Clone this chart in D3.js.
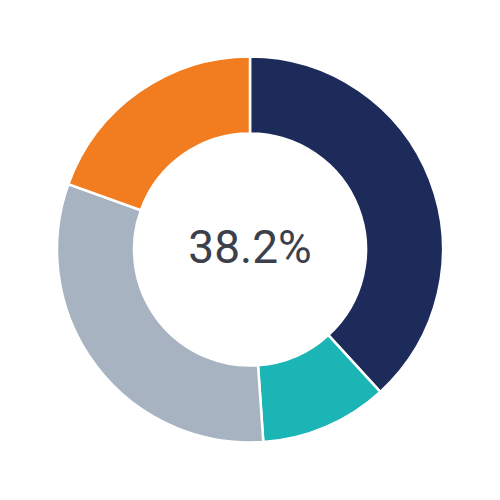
<!DOCTYPE html>
<html>
<head>
<meta charset="utf-8">
<script src="https://cdn.jsdelivr.net/npm/d3@7"></script>
<style>
  html, body { margin: 0; padding: 0; background: #fff; }
</style>
</head>
<body>
<script>
var categories = ["A", "B", "C", "D"];
var values = [38.2, 10.7, 31.6, 19.5];
var colors = ["#1c2b5a", "#1bb5b6", "#a8b3c2", "#f27c20"];
var centerLabel = "38.2%";

var width = 500, height = 500;
var outer = 193, inner = 116;

var svg = d3.select('body')
            .append('svg')
            .attr('width', width)
            .attr('height', height);

var g = svg.append('g')
           .attr('transform', 'translate(250, 249.5)');

var pie = d3.pie().sort(null).value((d) => d.value);
var arc = d3.arc().innerRadius(inner).outerRadius(outer);

var data = categories.map((c, i) => ({ name: c, value: values[i] }));

g.selectAll('path')
  .data(pie(data))
  .enter()
  .append('path')
  .attr('d', arc)
  .attr('fill', (d, i) => colors[i])
  .attr('stroke', '#fff')
  .attr('stroke-width', 2.5);

g.append('text')
  .attr('text-anchor', 'middle')
  .attr('y', 13.5)
  .attr('font-family', 'Roboto')
  .attr('font-size', 46)
  .attr('fill', '#3b404b')
  .text(centerLabel);
</script>
</body>
</html>
